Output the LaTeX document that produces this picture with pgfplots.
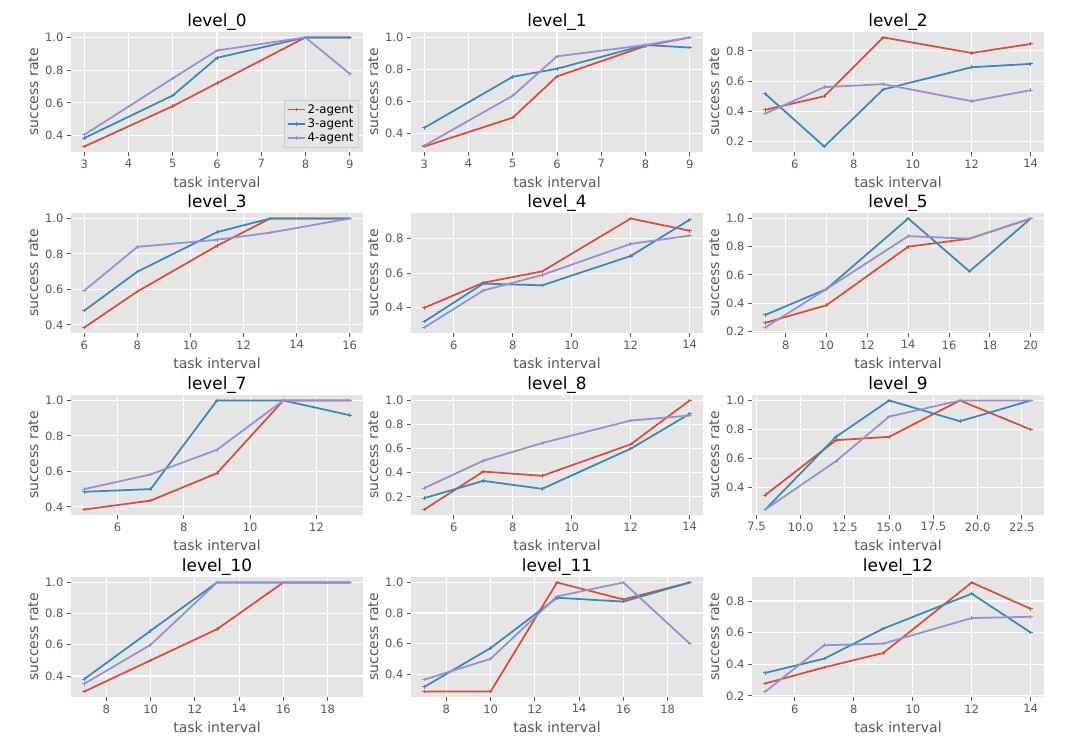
\documentclass[border=0pt]{standalone}
\usepackage{fontspec}
\setmainfont{DejaVu Sans}
\usepackage{pgfplots}
\pgfplotsset{compat=1.18}

\definecolor{bggray}{HTML}{E5E5E5}
\definecolor{tickgray}{HTML}{555555}
\definecolor{legframe}{HTML}{CCCCCC}
\definecolor{c2}{HTML}{E24A33}
\definecolor{c3}{HTML}{348ABD}
\definecolor{c4}{HTML}{988ED5}
\newcommand\legfont{\fontsize{11.8}{13}\selectfont}

\pgfplotscreateplotcyclelist{ggcycle}{c2\\c3\\c4\\}

\pgfplotsset{
  gg/.style={
    anchor=south west,
    scale only axis, width=292pt, height=120pt,
    axis background/.style={fill=bggray},
    axis line style={draw=none},
    grid=major, major grid style={white, line width=1.1pt},
    tick align=outside, tick pos=left, major tick length=4pt,
    tick style={tickgray, line width=0.9pt},
    ticklabel style={font=\fontsize{11.5}{12}\selectfont, text=tickgray},
    /pgf/number format/assume math mode=true,
    y tick label style={/pgf/number format/fixed, /pgf/number format/fixed zerofill, /pgf/number format/precision=1},
    xlabel={task interval}, ylabel={success rate},
    label style={font=\fontsize{14}{15}\selectfont, text=tickgray},
    xlabel style={yshift=-2pt},
    title style={font=\fontsize{16.9}{18}\selectfont, text=black, yshift=-8pt},
    cycle list name=ggcycle,
    every axis plot/.append style={line width=1.75pt, line join=round, mark=+, mark size=1.8pt, mark options={solid, line width=0.9pt}},
  }
}

\begin{document}
\begin{tikzpicture}
\path[use as bounding box] (0,0) rectangle (1086pt,742pt);

% ---- row 1 ----
\begin{axis}[gg, at={(71pt,590pt)}, title={level\_0},
  xmin=2.7, xmax=9.3, ymin=0.3, ymax=1.033,
  xtick={3,4,5,6,7,8,9}, ytick={0.4,0.6,0.8,1.0},
  legend style={at={(0.985,0.04)}, anchor=south east, fill=bggray, draw=legframe,
    font=\legfont}]
\addplot coordinates {(3,0.333)(5,0.58)(6,0.72)(8,1.0)(9,1.0)};
\addplot coordinates {(3,0.385)(5,0.645)(6,0.875)(8,1.0)(9,1.0)};
\addplot coordinates {(3,0.405)(5,0.75)(6,0.92)(8,1.0)(9,0.778)};
\legend{2-agent,3-agent,4-agent}
\end{axis}

\begin{axis}[gg, at={(411pt,590pt)}, title={level\_1},
  xmin=2.7, xmax=9.3, ymin=0.286, ymax=1.034,
  xtick={3,4,5,6,7,8,9}, ytick={0.4,0.6,0.8,1.0}]
\addplot coordinates {(3,0.32)(5,0.5)(6,0.757)(8,0.947)(9,1.0)};
\addplot coordinates {(3,0.437)(5,0.755)(6,0.805)(8,0.953)(9,0.937)};
\addplot coordinates {(3,0.325)(5,0.637)(6,0.882)(8,0.953)(9,1.0)};
\end{axis}

\begin{axis}[gg, at={(752pt,590pt)}, title={level\_2},
  xmin=4.55, xmax=14.45, ymin=0.131, ymax=0.925,
  xtick={6,8,10,12,14}, ytick={0.2,0.4,0.6,0.8}]
\addplot coordinates {(5,0.41)(7,0.5)(9,0.889)(12,0.786)(14,0.846)};
\addplot coordinates {(5,0.516)(7,0.167)(9,0.545)(12,0.692)(14,0.714)};
\addplot coordinates {(5,0.385)(7,0.56)(9,0.58)(12,0.467)(14,0.54)};
\end{axis}

% ---- row 2 ----
\begin{axis}[gg, at={(71pt,409pt)}, title={level\_3},
  xmin=5.5, xmax=16.5, ymin=0.354, ymax=1.031,
  xtick={6,8,10,12,14,16}, ytick={0.4,0.6,0.8,1.0}]
\addplot coordinates {(6,0.385)(8,0.588)(11,0.846)(13,1.0)(16,1.0)};
\addplot coordinates {(6,0.48)(8,0.70)(11,0.923)(13,1.0)(16,1.0)};
\addplot coordinates {(6,0.593)(8,0.84)(11,0.88)(13,0.92)(16,1.0)};
\end{axis}

\begin{axis}[gg, at={(411pt,409pt)}, title={level\_4},
  xmin=4.55, xmax=14.45, ymin=0.254, ymax=0.949,
  xtick={6,8,10,12,14}, ytick={0.4,0.6,0.8}]
\addplot coordinates {(5,0.40)(7,0.545)(9,0.611)(12,0.917)(14,0.846)};
\addplot coordinates {(5,0.32)(7,0.54)(9,0.53)(12,0.70)(14,0.91)};
\addplot coordinates {(5,0.286)(7,0.50)(9,0.59)(12,0.77)(14,0.818)};
\end{axis}

\begin{axis}[gg, at={(752pt,409pt)}, title={level\_5},
  xmin=6.35, xmax=20.65, ymin=0.188, ymax=1.039,
  xtick={8,10,12,14,16,18,20}, ytick={0.2,0.4,0.6,0.8,1.0}]
\addplot coordinates {(7,0.26)(10,0.385)(14,0.80)(17,0.857)(20,1.0)};
\addplot coordinates {(7,0.316)(10,0.50)(14,1.0)(17,0.625)(20,1.0)};
\addplot coordinates {(7,0.227)(10,0.50)(14,0.875)(17,0.857)(20,1.0)};
\end{axis}

% ---- row 3 ----
\begin{axis}[gg, at={(71pt,227pt)}, title={level\_7},
  xmin=4.6, xmax=13.4, ymin=0.354, ymax=1.031,
  xtick={6,8,10,12}, ytick={0.4,0.6,0.8,1.0}]
\addplot coordinates {(5,0.385)(7,0.435)(9,0.59)(11,1.0)(13,1.0)};
\addplot coordinates {(5,0.485)(7,0.50)(9,1.0)(11,1.0)(13,0.917)};
\addplot coordinates {(5,0.50)(7,0.583)(9,0.722)(11,1.0)(13,1.0)};
\end{axis}

\begin{axis}[gg, at={(411pt,227pt)}, title={level\_8},
  xmin=4.55, xmax=14.45, ymin=0.05, ymax=1.045,
  xtick={6,8,10,12,14}, ytick={0.2,0.4,0.6,0.8,1.0}]
\addplot coordinates {(5,0.095)(7,0.41)(9,0.375)(12,0.636)(14,1.0)};
\addplot coordinates {(5,0.19)(7,0.333)(9,0.267)(12,0.60)(14,0.889)};
\addplot coordinates {(5,0.273)(7,0.50)(9,0.647)(12,0.833)(14,0.875)};
\end{axis}

\begin{axis}[gg, at={(752pt,227pt)}, title={level\_9},
  xmin=7.25, xmax=23.75, ymin=0.2125, ymax=1.0375,
  xtick={7.5,10,12.5,15,17.5,20,22.5}, ytick={0.4,0.6,0.8,1.0},
  x tick label style={/pgf/number format/fixed, /pgf/number format/fixed zerofill, /pgf/number format/precision=1}]
\addplot coordinates {(8,0.35)(12,0.727)(15,0.75)(19,1.0)(23,0.80)};
\addplot coordinates {(8,0.25)(12,0.75)(15,1.0)(19,0.857)(23,1.0)};
\addplot coordinates {(8,0.25)(12,0.583)(15,0.889)(19,1.0)(23,1.0)};
\end{axis}

% ---- row 4 ----
\begin{axis}[gg, at={(71pt,45pt)}, title={level\_10},
  xmin=6.4, xmax=19.6, ymin=0.265, ymax=1.035,
  xtick={8,10,12,14,16,18}, ytick={0.4,0.6,0.8,1.0}]
\addplot coordinates {(7,0.30)(10,0.50)(13,0.70)(16,1.0)(19,1.0)};
\addplot coordinates {(7,0.38)(10,0.69)(13,1.0)(16,1.0)(19,1.0)};
\addplot coordinates {(7,0.35)(10,0.60)(13,1.0)(16,1.0)(19,1.0)};
\end{axis}

\begin{axis}[gg, at={(411pt,45pt)}, title={level\_11},
  xmin=6.4, xmax=19.6, ymin=0.25, ymax=1.036,
  xtick={8,10,12,14,16,18}, ytick={0.4,0.6,0.8,1.0}]
\addplot coordinates {(7,0.286)(10,0.286)(13,1.0)(16,0.889)(19,1.0)};
\addplot coordinates {(7,0.316)(10,0.571)(13,0.90)(16,0.875)(19,1.0)};
\addplot coordinates {(7,0.364)(10,0.50)(13,0.909)(16,1.0)(19,0.60)};
\end{axis}

\begin{axis}[gg, at={(752pt,45pt)}, title={level\_12},
  xmin=4.55, xmax=14.45, ymin=0.1925, ymax=0.9515,
  xtick={6,8,10,12,14}, ytick={0.2,0.4,0.6,0.8}]
\addplot coordinates {(5,0.278)(7,0.38)(9,0.471)(12,0.917)(14,0.75)};
\addplot coordinates {(5,0.345)(7,0.435)(9,0.625)(12,0.846)(14,0.60)};
\addplot coordinates {(5,0.227)(7,0.52)(9,0.53)(12,0.692)(14,0.70)};
\end{axis}
\end{tikzpicture}
\end{document}
